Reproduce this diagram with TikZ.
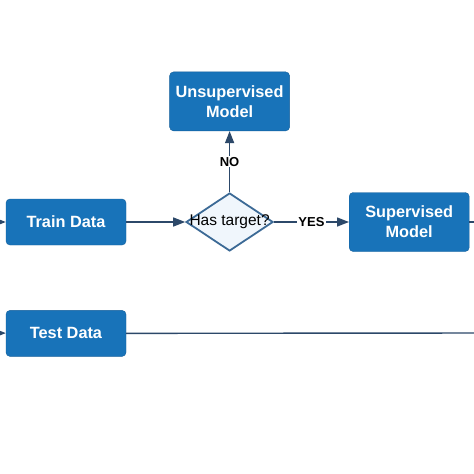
\documentclass[tikz,border=0pt]{standalone}
\usepackage{fontspec}
\setmainfont{Liberation Sans}
\usetikzlibrary{shapes.geometric, arrows.meta, positioning}
\definecolor{boxblue}{RGB}{24,115,185}
\definecolor{boxedge}{RGB}{20,95,155}
\definecolor{linenavy}{RGB}{44,72,105}
\definecolor{diafill}{RGB}{240,246,252}
\definecolor{diaedge}{RGB}{60,106,150}
\tikzstyle{datablock} = [rectangle, rounded corners=4pt, minimum width=120pt, minimum height=46pt, text centered, align=center, draw=boxedge, fill=boxblue, text=white, font=\bfseries\fontsize{16.3}{20}\selectfont]
\tikzstyle{model} = [datablock, minimum height=59pt]
\tikzstyle{decision} = [diamond, minimum width=87pt, minimum height=58pt, inner sep=0pt, draw=diaedge, fill=diafill, line width=1.8pt, font=\fontsize{15.5}{18}\selectfont]
\tikzstyle{wire} = [line width=1.4pt, draw=linenavy]
\tikzstyle{arrow} = [wire, -{Triangle[length=12pt,width=9pt]}]
\tikzstyle{answer} = [fill=white, inner sep=1pt, font=\bfseries\fontsize{13}{15}\selectfont]

\begin{document}
\begin{tikzpicture}[x=1pt, y=-1pt]

\fill[white] (0,0) rectangle (474,474);
\useasboundingbox (0,0) rectangle (474,474);

% Nodes
\node (train) [datablock] at (66,222) {Train Data};
\node (decide) [decision, right=59pt of train] {\makebox[0pt]{Has target?}};
\node (superv) [model, right=75pt of decide] {Supervised\\Model};
\node (unsup) [model, above=61pt of decide] {Unsupervised\\Model};
\node (test) [datablock, below=65pt of train] {Test Data};

% Loose ends
\coordinate (trainin) at (-20,222);
\coordinate (testin) at (-20,333);
\coordinate (supervout) at (490,222);
\coordinate (testout) at (490,333);

% Arrows
\draw [arrow] (trainin) -- (train);
\draw [arrow] (testin) -- (test);
\draw [arrow] (train) -- (decide);
\draw [arrow] (decide) -- node[answer] {YES} (superv);
\draw [arrow] (decide) -- node[answer] {NO} (unsup);
\draw [wire] (superv) -- (supervout);
\draw [wire] (test) -- (testout);

\end{tikzpicture}
\end{document}
